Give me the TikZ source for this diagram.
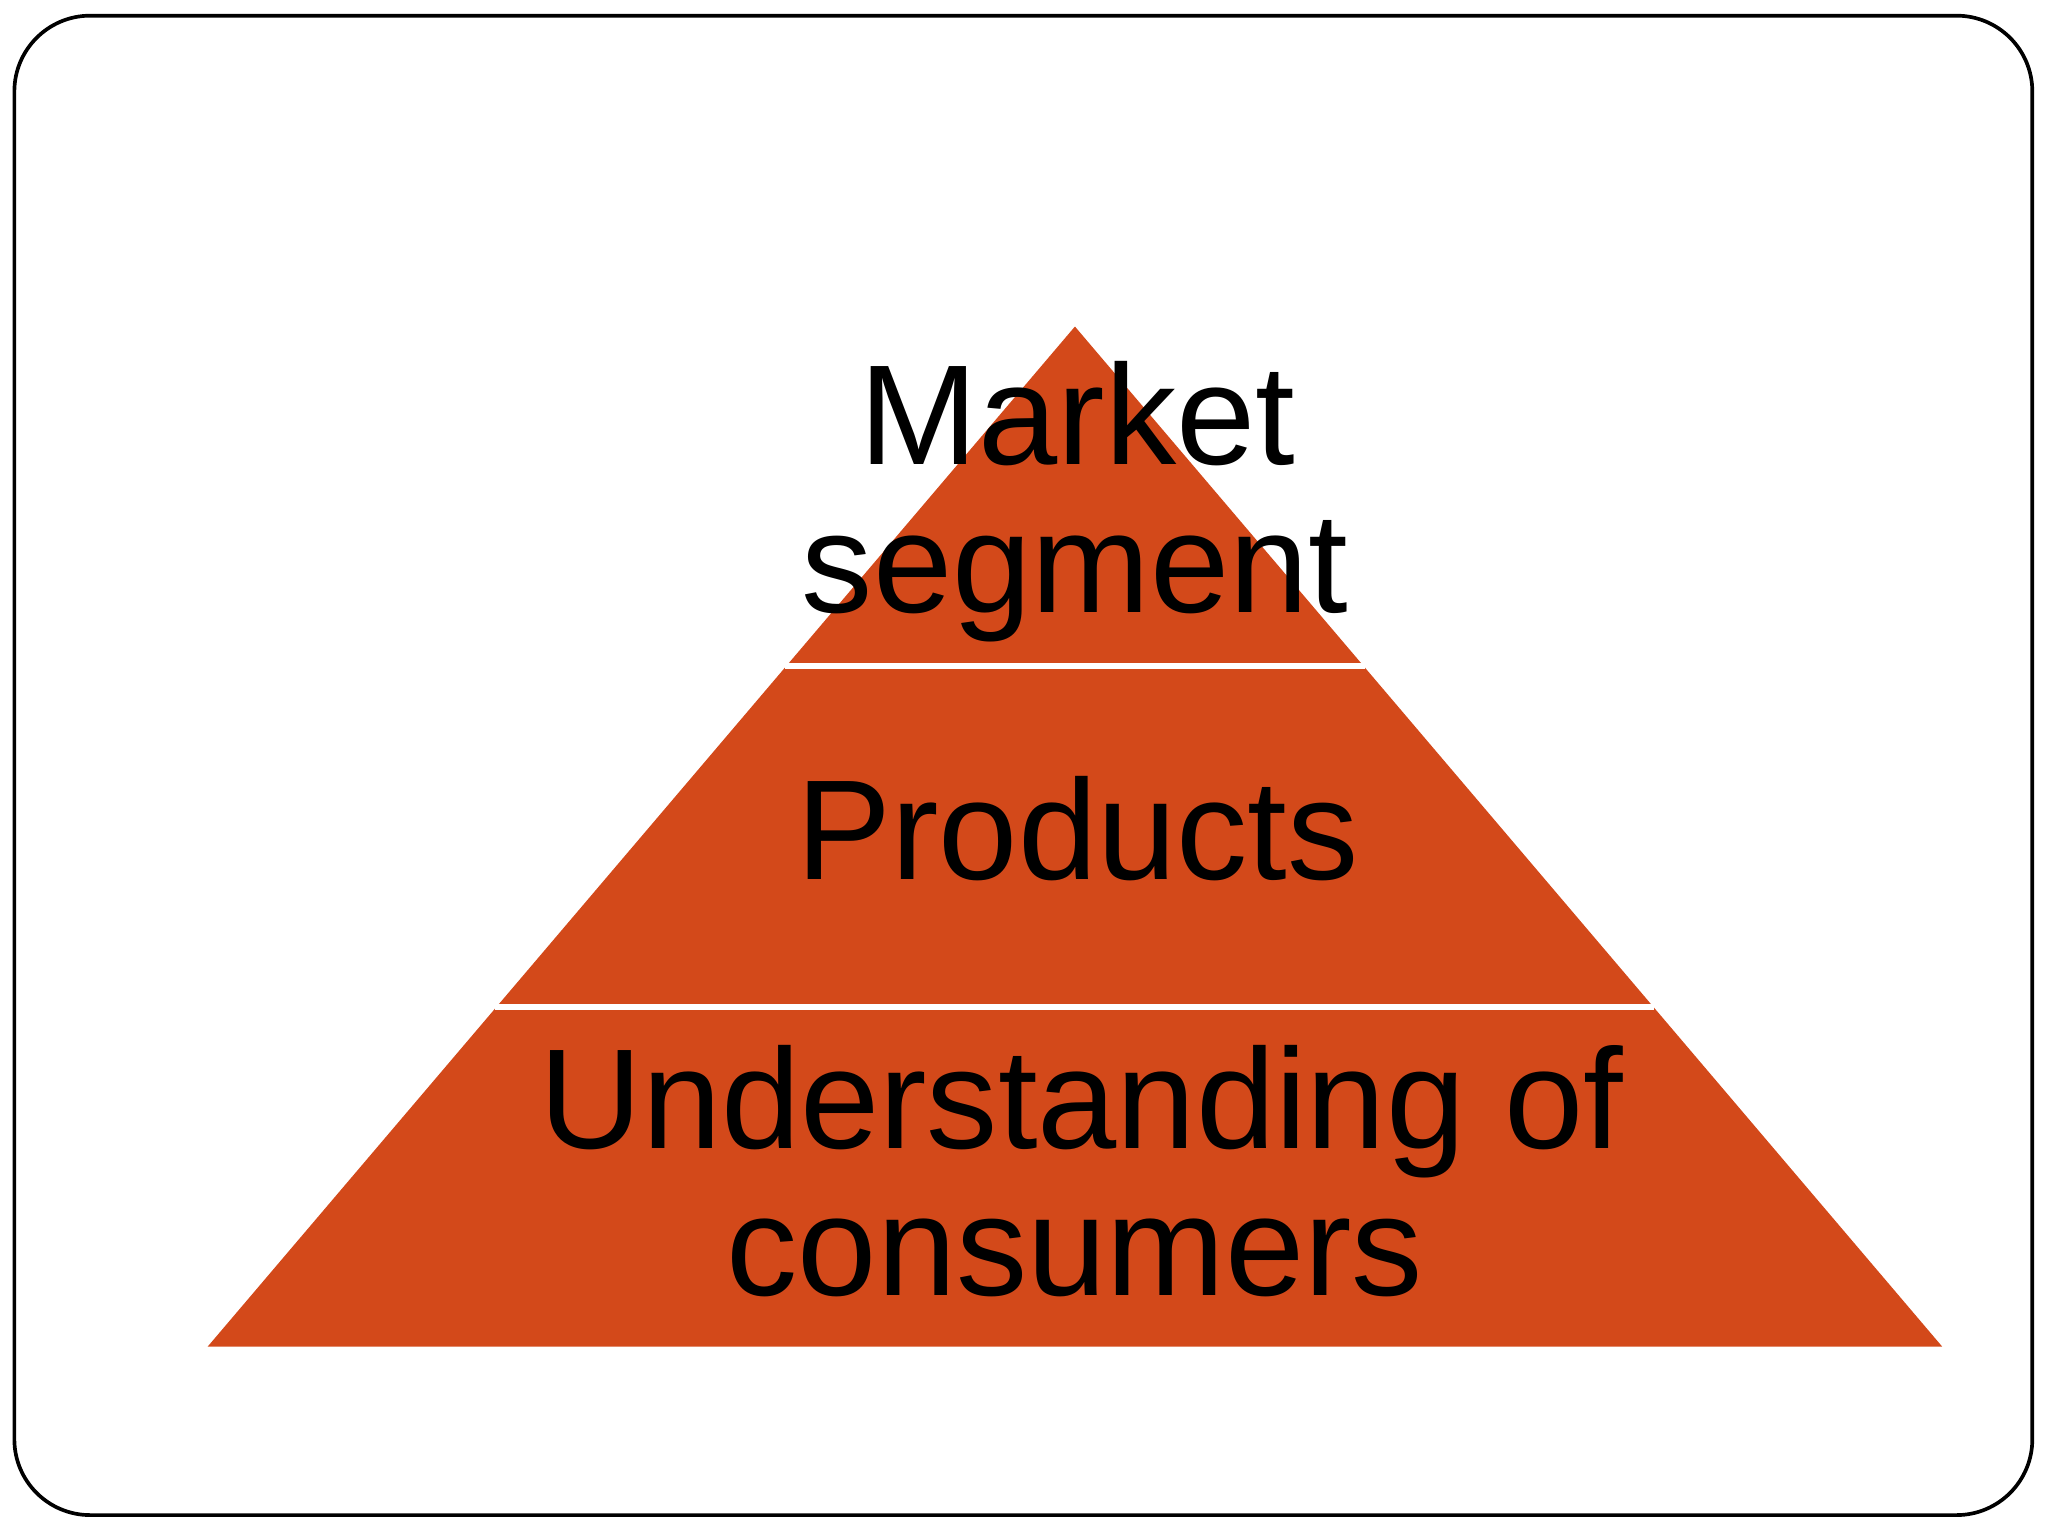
\documentclass[tikz,border=0pt]{standalone}
\usepackage{fontspec}
\setmainfont{Liberation Sans}
\definecolor{pyr}{HTML}{D3491A}
\tikzset{lbl/.style={anchor=base,inner sep=0pt,font=\fontsize{31}{32}\selectfont,text=black},
sep/.style={draw=white,line width=1.2pt}}
\begin{document}
\begin{tikzpicture}[x=0.01cm,y=-0.01cm]
\useasboundingbox (0,0) rectangle (1568,1176);
\draw[line width=0.8pt,rounded corners=0.58cm] (11,12) rectangle (1556,1160);
\coordinate (apex) at (823,250);
\coordinate (bl) at (159,1031);
\coordinate (br) at (1487,1031);
\fill[pyr] (apex) -- (br) -- (bl) -- cycle;
\coordinate (l1) at (601,510); \coordinate (r1) at (1045,510);
\coordinate (l2) at (379,771); \coordinate (r2) at (1266,771);
\draw[sep] (l1) -- (r1);
\draw[sep] (l2) -- (r2);
\node[lbl] (t1) at (825,356) {Market};
\node[lbl] (t2) at (823,469) {segment};
\node[lbl] (t3) at (825,673) {Products};
\node[lbl] (t4) at (828,879) {Understanding of};
\node[lbl] (t5) at (823,992) {consumers};
\end{tikzpicture}
\end{document}
